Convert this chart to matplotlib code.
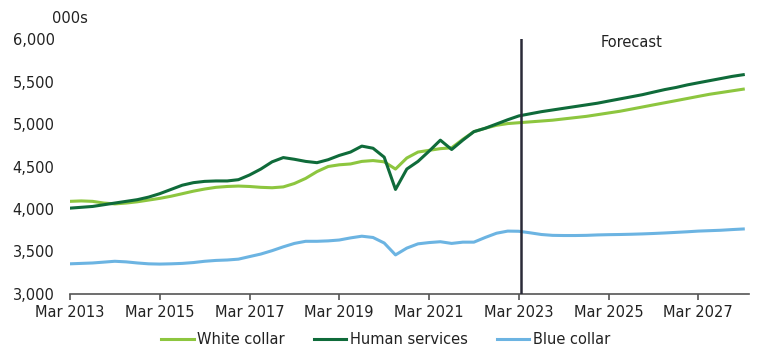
import numpy as np
import pandas as pd
import matplotlib
matplotlib.use("Agg")
import matplotlib.pyplot as plt

# quarterly, Mar 2013 .. Mar 2028 (forecast from Mar 2023)
dates = pd.date_range("2013-03-01", "2028-03-01", freq="QS-MAR")

white_collar = [4090, 4095, 4090, 4070, 4060, 4070, 4085, 4105, 4125, 4150,
                4180, 4210, 4235, 4255, 4265, 4270, 4265, 4255, 4250, 4260,
                4300, 4360, 4440, 4500, 4520, 4530, 4560, 4570, 4555, 4470,
                4600, 4670, 4690, 4710, 4720, 4820, 4910, 4950, 4985, 5005,
                5015, 5025, 5035, 5045, 5060, 5075, 5090, 5110, 5130, 5150,
                5175, 5200, 5225, 5250, 5275, 5300, 5325, 5350, 5370, 5390,
                5410]
human_services = [4010, 4020, 4030, 4050, 4070, 4090, 4110, 4140, 4180, 4230,
                  4280, 4310, 4325, 4330, 4330, 4345, 4400, 4470, 4555, 4605,
                  4585, 4560, 4545, 4580, 4630, 4670, 4740, 4715, 4610, 4230,
                  4470, 4560, 4680, 4810, 4700, 4810, 4910, 4950, 5000, 5050,
                  5095, 5120, 5145, 5165, 5185, 5205, 5225, 5245, 5270, 5295,
                  5320, 5345, 5375, 5405, 5430, 5460, 5485, 5510, 5535, 5560,
                  5580]
blue_collar = [3355, 3360, 3365, 3375, 3385, 3378, 3365, 3355, 3352, 3355,
               3360, 3370, 3385, 3395, 3400, 3410, 3440, 3470, 3510, 3555,
               3595, 3620, 3620, 3625, 3635, 3660, 3680, 3665, 3600, 3460,
               3540, 3590, 3605, 3615, 3595, 3610, 3610, 3665, 3715, 3740,
               3738, 3720, 3700, 3690, 3688, 3688, 3690, 3695, 3698, 3700,
               3703, 3707, 3712, 3718, 3725, 3732, 3740, 3745, 3750, 3758,
               3765]

forecast_start = pd.Timestamp("2023-03-20")
tick_dates = pd.date_range("2013-03-01", "2027-03-01", freq="24MS")
tick_labels = [d.strftime("Mar %Y") for d in tick_dates]
yticks = [3000, 3500, 4000, 4500, 5000, 5500, 6000]

plt.rcParams['font.family'] = ['DejaVu Sans']
txt = '#222222'

fig = plt.figure(figsize=(7.68, 3.54), dpi=100)
ax = fig.add_axes([0.0911, 0.1695, 0.8839, 0.7203])

ax.plot(dates, white_collar, color='#8dc63f', lw=2.2, label='White collar')
ax.plot(dates, human_services, color='#0f6b3a', lw=2.2, label='Human services')
ax.plot(dates, blue_collar, color='#6cb4e2', lw=2.2, label='Blue collar')

ax.axvline(forecast_start, color='#2a2a38', lw=1.8, zorder=5)
ax.text(pd.Timestamp("2025-09-01"), 5960, 'Forecast', fontsize=10.5,
        color=txt, ha='center', va='center')

ax.set_ylim(3000, 6000)
ax.set_xlim(dates[0], pd.Timestamp("2028-04-15"))
ax.set_yticks(yticks)
ax.set_yticklabels([f"{v:,}" for v in yticks], fontsize=10.5, color=txt)
ax.set_xticks(tick_dates)
ax.set_xticklabels(tick_labels, fontsize=10.5, color=txt)

for s in ['top', 'right', 'left']:
    ax.spines[s].set_visible(False)
ax.spines['bottom'].set_color('#555555')
ax.spines['bottom'].set_linewidth(1.2)
ax.tick_params(axis='y', length=0, pad=11)
ax.tick_params(axis='x', length=4, width=1.2, color='#555555', pad=4)

fig.text(0.068, 0.948, '000s', fontsize=10.5, color=txt, va='center', ha='left')

ax.legend(loc='center', bbox_to_anchor=(0.465, -0.177), ncol=3,
          frameon=False, fontsize=10.5, handlelength=2.2, handletextpad=0.25,
          columnspacing=2.0, labelcolor=txt, borderpad=0)

fig.savefig('out.png', dpi=100)
